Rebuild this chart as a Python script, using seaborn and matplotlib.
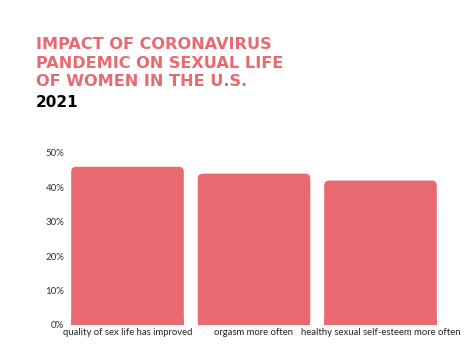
import matplotlib
matplotlib.use("Agg")
import matplotlib.pyplot as plt
import seaborn as sns
import pandas as pd
from matplotlib.patches import FancyBboxPatch

categories = ["quality of sex life has improved", "orgasm more often",
              "healthy sexual self-esteem more often"]
values = [46, 44, 42]
yticks = [0, 10, 20, 30, 40, 50]
ytick_labels = ["0%", "10%", "20%", "30%", "40%", "50%"]

sns.set_theme(style="white")
plt.rcParams['font.family'] = ['Lato', 'DejaVu Sans']

coral = "#E8696F"
df = pd.DataFrame({"cat": categories, "val": values})

fig = plt.figure(figsize=(4.74, 3.55), dpi=100)
ax = fig.add_axes([64.25/474, 30/355, 379.5/474, 172/355])
sns.barplot(data=df, x="cat", y="val", color=coral, saturation=1, width=0.89, ax=ax)

# round top corners
for p in list(ax.patches):
    x, y, w, h = p.get_x(), p.get_y(), p.get_width(), p.get_height()
    p.set_visible(False)
    r = FancyBboxPatch((x, y), w, h, boxstyle="round,pad=0,rounding_size=0.04",
                       mutation_aspect=50/172*379.5/3,
                       facecolor=coral, edgecolor="none")
    ax.add_patch(r)
    ax.bar(x + w/2, 2, width=w, bottom=0, color=coral, linewidth=0)

ax.set_xlim(-0.5, 2.5)
ax.set_ylim(0, 50)
ax.set_yticks(yticks)
ax.set_yticklabels(ytick_labels)
ax.set_xlabel("")
ax.set_ylabel("")
for s in ax.spines.values():
    s.set_visible(False)
ax.tick_params(axis="y", length=0, pad=0, labelsize=7, labelcolor="#333333")
ax.tick_params(axis="x", length=0, pad=2.5, labelsize=6.8, labelcolor="#222222")

fig.text(36/474, 1 - 37/355, "IMPACT OF CORONAVIRUS\nPANDEMIC ON SEXUAL LIFE\nOF WOMEN IN THE U.S.",
         color=coral, fontsize=11.6, fontweight="bold", va="top", ha="left",
         linespacing=1.3, family=["DejaVu Sans"])
fig.text(36/474, 1 - 95/355, "2021", color="black", fontsize=11,
         fontweight="bold", va="top", ha="left", family=["DejaVu Sans"])

fig.savefig("out.png", dpi=100, facecolor="white")
